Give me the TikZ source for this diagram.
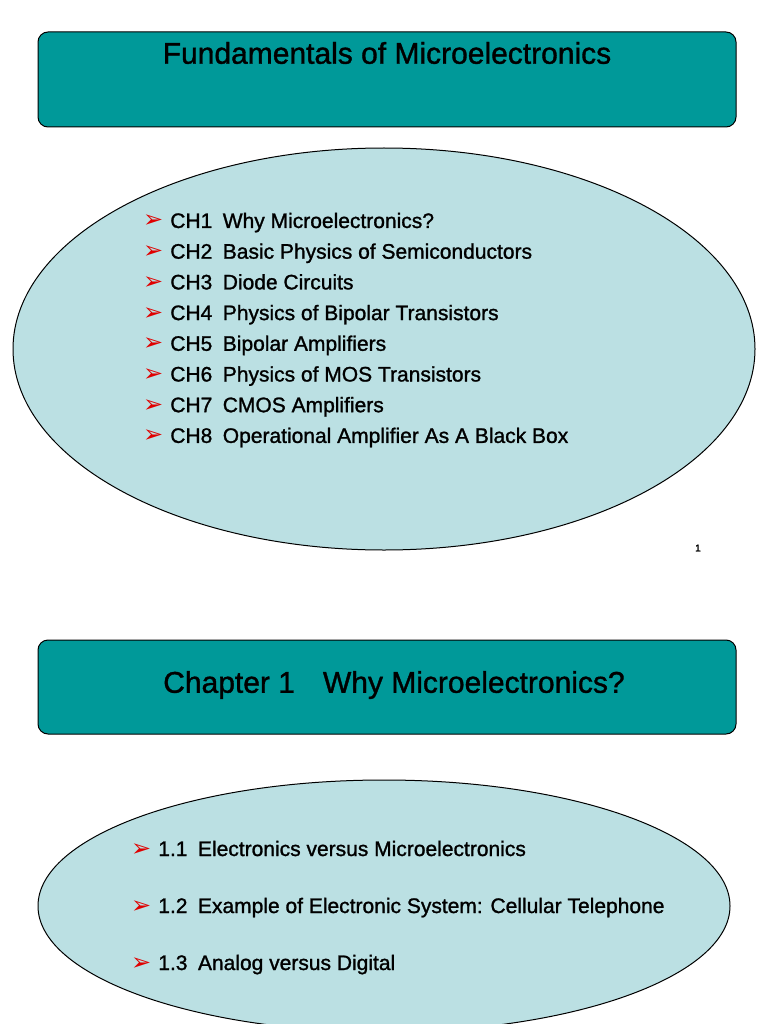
\documentclass[tikz,border=0pt]{standalone}
\usepackage{fontspec}
\setmainfont[FakeBold=1.2]{Liberation Sans}
\newfontfamily\symf{DejaVu Sans}
\usetikzlibrary{shapes.geometric}
\definecolor{teal1}{HTML}{009999}
\definecolor{pale}{HTML}{BBE0E3}
\definecolor{bul}{HTML}{E00000}
\tikzset{
 hdr/.style={draw=black,line width=1pt,fill=teal1,rounded corners=10pt},
 ell/.style={draw=black,line width=1pt,fill=pale},
 item/.style={anchor=base west,font=\fontsize{21}{22}\selectfont,inner sep=0pt},
 ttl/.style={font=\fontsize{30}{32}\selectfont,inner sep=0pt}
}
\newcommand{\bl}{{\color{bul}\symf\fontsize{24}{24}\selectfont ➢}\hspace{7pt}}
\begin{document}
\begin{tikzpicture}[x=1pt,y=-1pt]
\useasboundingbox (0,0) rectangle (768,1024);
\clip (0,0) rectangle (768,1024);
\draw[hdr] (38,32) rectangle (736,127);
\node[ttl] (t1) at (387,53) {Fundamentals of Microelectronics};
\draw[ell] (384,349) ellipse [x radius=371,y radius=201];
\foreach \t [count=\i] in {CH1\enspace Why Microelectronics?,CH2\enspace Basic Physics of Semiconductors,CH3\enspace Diode Circuits,CH4\enspace Physics of Bipolar Transistors,CH5\enspace Bipolar Amplifiers,CH6\enspace Physics of MOS Transistors,CH7\enspace CMOS Amplifiers,CH8\enspace Operational Amplifier As A Black Box}
  \node[item] (c\i) at (143,{228+30.7*(\i-1)}) {\bl\t};
\node[font=\fontsize{10}{12}\selectfont] (pg) at (698,548) {1};
\draw[hdr] (38,640) rectangle (736,734);
\node[ttl] (t2) at (394,685) {Chapter 1\hspace{28pt}Why Microelectronics?};
\draw[ell] (384,906) ellipse [x radius=346,y radius=126];
\node[item] (s1) at (131,856) {\bl 1.1\enspace Electronics versus Microelectronics};
\node[item] (s2) at (131,913) {\bl 1.2\enspace Example of Electronic System: Cellular Telephone};
\node[item] (s3) at (131,970) {\bl 1.3\enspace Analog versus Digital};
\end{tikzpicture}
\end{document}
